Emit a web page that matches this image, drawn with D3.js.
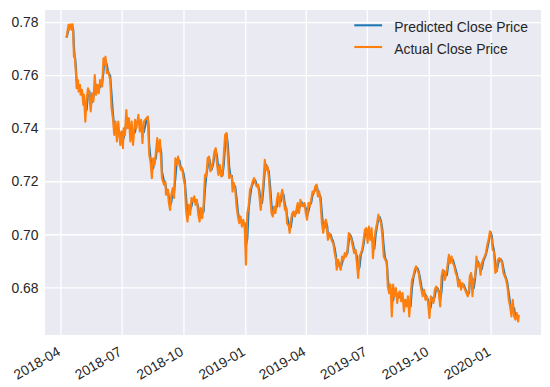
<!DOCTYPE html>
<html><head><meta charset="utf-8">
<script src="https://cdn.jsdelivr.net/npm/d3@7"></script>
<style>
body{margin:0;background:#fff;}
svg{display:block;}
text{font-family:"Liberation Sans",Arial,sans-serif;}
</style>
</head><body>
<svg id="chart" width="550" height="387"></svg>
<script>
const dates = [
"2018-04-10","2018-04-11","2018-04-13","2018-04-14","2018-04-16","2018-04-18","2018-04-19","2018-04-20","2018-04-21","2018-04-22",
"2018-04-23","2018-04-24","2018-04-25","2018-04-27","2018-04-28","2018-04-30","2018-05-01","2018-05-03","2018-05-05","2018-05-06",
"2018-05-08","2018-05-10","2018-05-12","2018-05-14","2018-05-16","2018-05-18","2018-05-20","2018-05-22","2018-05-24","2018-05-26",
"2018-05-28","2018-05-30","2018-06-02","2018-06-04","2018-06-05","2018-06-07","2018-06-09","2018-06-11","2018-06-14","2018-06-16",
"2018-06-18","2018-06-20","2018-06-22","2018-06-24","2018-06-26","2018-06-29","2018-07-01","2018-07-03","2018-07-04","2018-07-06",
"2018-07-08","2018-07-10","2018-07-12","2018-07-14","2018-07-16","2018-07-18","2018-07-21","2018-07-23","2018-07-26","2018-07-28",
"2018-07-30","2018-08-01","2018-08-03","2018-08-07","2018-08-09","2018-08-10","2018-08-11","2018-08-13","2018-08-15","2018-08-17",
"2018-08-19","2018-08-21","2018-08-23","2018-08-25","2018-08-27","2018-08-29","2018-08-30","2018-09-02","2018-09-04","2018-09-05",
"2018-09-08","2018-09-09","2018-09-11","2018-09-13","2018-09-15","2018-09-17","2018-09-19","2018-09-21","2018-09-23","2018-09-25",
"2018-09-27","2018-09-29","2018-10-01","2018-10-03","2018-10-05","2018-10-07","2018-10-09","2018-10-11","2018-10-13","2018-10-15",
"2018-10-17","2018-10-19","2018-10-21","2018-10-23","2018-10-25","2018-10-27","2018-10-29","2018-10-31","2018-11-02","2018-11-04",
"2018-11-06","2018-11-08","2018-11-10","2018-11-12","2018-11-14","2018-11-16","2018-11-18","2018-11-20","2018-11-22","2018-11-24",
"2018-11-26","2018-11-28","2018-11-30","2018-12-02","2018-12-04","2018-12-06","2018-12-08","2018-12-10","2018-12-12","2018-12-13",
"2018-12-15","2018-12-17","2018-12-19","2018-12-21","2018-12-23","2018-12-25","2018-12-27","2018-12-29","2018-12-31","2019-01-02",
"2019-01-04","2019-01-06","2019-01-08","2019-01-10","2019-01-12","2019-01-14","2019-01-16","2019-01-18","2019-01-20","2019-01-22",
"2019-01-24","2019-01-26","2019-01-28","2019-01-30","2019-02-01","2019-02-03","2019-02-05","2019-02-07","2019-02-09","2019-02-11",
"2019-02-13","2019-02-15","2019-02-17","2019-02-19","2019-02-21","2019-02-23","2019-02-25","2019-02-27","2019-03-01","2019-03-03",
"2019-03-04","2019-03-07","2019-03-08","2019-03-10","2019-03-12","2019-03-14","2019-03-16","2019-03-18","2019-03-20","2019-03-22",
"2019-03-24","2019-03-26","2019-03-28","2019-03-30","2019-04-01","2019-04-03","2019-04-05","2019-04-07","2019-04-09","2019-04-11",
"2019-04-13","2019-04-15","2019-04-17","2019-04-19","2019-04-21","2019-04-23","2019-04-25","2019-04-27","2019-04-29","2019-05-01",
"2019-05-03","2019-05-04","2019-05-06","2019-05-08","2019-05-10","2019-05-12","2019-05-14","2019-05-16","2019-05-17","2019-05-19",
"2019-05-21","2019-05-23","2019-05-25","2019-05-27","2019-05-29","2019-05-31","2019-06-02","2019-06-04","2019-06-06","2019-06-08",
"2019-06-10","2019-06-12","2019-06-14","2019-06-16","2019-06-18","2019-06-20","2019-06-22","2019-06-24","2019-06-26","2019-06-28",
"2019-06-30","2019-07-02","2019-07-04","2019-07-06","2019-07-08","2019-07-10","2019-07-12","2019-07-14","2019-07-16","2019-07-18",
"2019-07-20","2019-07-22","2019-07-24","2019-07-26","2019-07-28","2019-07-30","2019-07-31","2019-08-01","2019-08-03","2019-08-05",
"2019-08-07","2019-08-09","2019-08-11","2019-08-13","2019-08-15","2019-08-17","2019-08-19","2019-08-21","2019-08-23","2019-08-25",
"2019-08-27","2019-08-29","2019-08-31","2019-09-02","2019-09-04","2019-09-06","2019-09-08","2019-09-10","2019-09-12","2019-09-14",
"2019-09-16","2019-09-18","2019-09-20","2019-09-22","2019-09-24","2019-09-26","2019-09-28","2019-09-30","2019-10-02","2019-10-04",
"2019-10-06","2019-10-08","2019-10-10","2019-10-12","2019-10-14","2019-10-16","2019-10-18","2019-10-20","2019-10-22","2019-10-24",
"2019-10-25","2019-10-28","2019-10-30","2019-10-31","2019-11-02","2019-11-04","2019-11-06","2019-11-08","2019-11-10","2019-11-12",
"2019-11-14","2019-11-16","2019-11-18","2019-11-20","2019-11-22","2019-11-24","2019-11-26","2019-11-28","2019-11-30","2019-12-01",
"2019-12-03","2019-12-05","2019-12-07","2019-12-09","2019-12-11","2019-12-13","2019-12-15","2019-12-17","2019-12-19","2019-12-21",
"2019-12-23","2019-12-25","2019-12-27","2019-12-29","2019-12-31","2020-01-01","2020-01-03","2020-01-04","2020-01-06","2020-01-08",
"2020-01-10","2020-01-12","2020-01-14","2020-01-16","2020-01-18","2020-01-20","2020-01-22","2020-01-24","2020-01-26","2020-01-28",
"2020-01-30","2020-02-01","2020-02-03","2020-02-05","2020-02-07","2020-02-09","2020-02-11","2020-02-12"
];

const actual = [
0.7742,0.7759,0.7790,0.7771,0.7792,0.7771,0.7792,0.7752,0.7670,0.7677,
0.7645,0.7608,0.7551,0.7582,0.7538,0.7564,0.7526,0.7545,0.7488,0.7526,
0.7425,0.7513,0.7551,0.7526,0.7463,0.7532,0.7501,0.7601,0.7526,0.7564,
0.7532,0.7582,0.7557,0.7664,0.7639,0.7670,0.7608,0.7614,0.7582,0.7476,
0.7438,0.7375,0.7425,0.7350,0.7425,0.7337,0.7388,0.7325,0.7400,0.7375,
0.7469,0.7400,0.7438,0.7350,0.7425,0.7337,0.7432,0.7400,0.7451,0.7388,
0.7432,0.7344,0.7425,0.7438,0.7444,0.7375,0.7300,0.7274,0.7212,0.7287,
0.7262,0.7312,0.7363,0.7312,0.7356,0.7262,0.7212,0.7187,0.7199,0.7149,
0.7168,0.7124,0.7092,0.7149,0.7174,0.7137,0.7287,0.7262,0.7293,0.7262,
0.7243,0.7250,0.7212,0.7187,0.7086,0.7048,0.7111,0.7074,0.7137,0.7124,
0.7143,0.7111,0.7130,0.7074,0.7048,0.7099,0.7061,0.7111,0.7224,0.7218,
0.7287,0.7293,0.7237,0.7250,0.7274,0.7312,0.7325,0.7262,0.7224,0.7262,
0.7218,0.7224,0.7300,0.7375,0.7382,0.7300,0.7212,0.7224,0.7215,0.7161,
0.7193,0.7168,0.7105,0.7067,0.7042,0.7067,0.7029,0.7055,0.7029,0.6885,
0.7080,0.7105,0.7168,0.7180,0.7199,0.7212,0.7193,0.7180,0.7187,0.7143,
0.7092,0.7143,0.7199,0.7281,0.7243,0.7256,0.7218,0.7143,0.7080,0.7067,
0.7105,0.7080,0.7130,0.7155,0.7105,0.7143,0.7168,0.7130,0.7092,0.7100,
0.7042,0.7029,0.7005,0.7055,0.7080,0.7086,0.7067,0.7092,0.7118,0.7080,
0.7130,0.7111,0.7105,0.7118,0.7080,0.7055,0.7118,0.7105,0.7130,0.7161,
0.7155,0.7180,0.7187,0.7143,0.7161,0.7118,0.7042,0.7005,0.7042,0.7055,
0.7005,0.6979,0.7005,0.6992,0.6973,0.6967,0.6929,0.6904,0.6866,0.6904,
0.6879,0.6866,0.6916,0.6904,0.6929,0.6916,0.6942,0.7005,0.6992,0.6979,
0.6954,0.6929,0.6942,0.6891,0.6835,0.6916,0.6929,0.6942,0.6979,0.7017,
0.7023,0.6967,0.7029,0.6979,0.7023,0.6910,0.6979,0.7017,0.7042,0.7074,
0.7055,0.7042,0.6992,0.6916,0.6904,0.6898,0.6866,0.6803,0.6778,0.6810,
0.6690,0.6810,0.6766,0.6797,0.6741,0.6778,0.6784,0.6747,0.6778,0.6709,
0.6753,0.6728,0.6766,0.6690,0.6766,0.6828,0.6841,0.6866,0.6879,0.6866,
0.6854,0.6816,0.6791,0.6766,0.6791,0.6753,0.6766,0.6741,0.6684,0.6766,
0.6753,0.6741,0.6791,0.6803,0.6791,0.6778,0.6728,0.6841,0.6866,0.6854,
0.6828,0.6866,0.6904,0.6923,0.6891,0.6916,0.6891,0.6879,0.6854,0.6841,
0.6803,0.6828,0.6791,0.6816,0.6803,0.6791,0.6778,0.6766,0.6791,0.6841,
0.6854,0.6766,0.6828,0.6841,0.6916,0.6879,0.6891,0.6847,0.6891,0.6904,
0.6916,0.6929,0.6960,0.6979,0.7011,0.7005,0.6979,0.6942,0.6935,0.6854,
0.6866,0.6904,0.6910,0.6904,0.6891,0.6854,0.6841,0.6828,0.6803,0.6753,
0.6728,0.6690,0.6753,0.6690,0.6678,0.6703,0.6671,0.6697
];

const predicted = [
0.7742,0.7751,0.7775,0.7781,0.7782,0.7782,0.7782,0.7772,0.7711,0.7674,
0.7661,0.7627,0.7580,0.7567,0.7560,0.7551,0.7545,0.7536,0.7517,0.7507,
0.7476,0.7469,0.7532,0.7539,0.7495,0.7498,0.7517,0.7551,0.7564,0.7545,
0.7548,0.7557,0.7570,0.7611,0.7652,0.7655,0.7639,0.7611,0.7598,0.7529,
0.7457,0.7407,0.7400,0.7388,0.7388,0.7381,0.7363,0.7357,0.7363,0.7388,
0.7422,0.7435,0.7419,0.7394,0.7388,0.7381,0.7385,0.7416,0.7426,0.7420,
0.7410,0.7388,0.7385,0.7432,0.7441,0.7410,0.7338,0.7287,0.7243,0.7250,
0.7275,0.7287,0.7338,0.7338,0.7334,0.7309,0.7237,0.7200,0.7193,0.7174,
0.7159,0.7146,0.7108,0.7121,0.7162,0.7156,0.7212,0.7275,0.7278,0.7278,
0.7253,0.7247,0.7231,0.7200,0.7137,0.7067,0.7080,0.7093,0.7106,0.7131,
0.7134,0.7127,0.7121,0.7102,0.7061,0.7074,0.7080,0.7086,0.7168,0.7221,
0.7253,0.7290,0.7265,0.7244,0.7262,0.7293,0.7319,0.7294,0.7243,0.7243,
0.7240,0.7221,0.7262,0.7338,0.7379,0.7341,0.7256,0.7218,0.7220,0.7188,
0.7177,0.7181,0.7137,0.7086,0.7055,0.7055,0.7048,0.7042,0.7042,0.6957,
0.6983,0.7093,0.7137,0.7174,0.7190,0.7206,0.7203,0.7187,0.7184,0.7165,
0.7118,0.7118,0.7171,0.7240,0.7262,0.7250,0.7237,0.7181,0.7112,0.7074,
0.7086,0.7093,0.7105,0.7143,0.7130,0.7124,0.7156,0.7149,0.7111,0.7096,
0.7071,0.7036,0.7017,0.7030,0.7068,0.7083,0.7077,0.7080,0.7105,0.7099,
0.7105,0.7121,0.7108,0.7112,0.7099,0.7068,0.7087,0.7112,0.7118,0.7146,
0.7158,0.7168,0.7184,0.7165,0.7152,0.7140,0.7080,0.7024,0.7024,0.7049,
0.7030,0.6992,0.6992,0.6999,0.6983,0.6970,0.6948,0.6917,0.6885,0.6885,
0.6892,0.6873,0.6891,0.6910,0.6917,0.6923,0.6929,0.6974,0.6999,0.6986,
0.6967,0.6942,0.6936,0.6917,0.6863,0.6876,0.6923,0.6936,0.6961,0.6998,
0.7020,0.6995,0.6998,0.7004,0.7001,0.6967,0.6945,0.6998,0.7030,0.7058,
0.7065,0.7049,0.7017,0.6954,0.6910,0.6901,0.6882,0.6835,0.6791,0.6794,
0.6750,0.6750,0.6788,0.6782,0.6769,0.6760,0.6781,0.6766,0.6763,0.6744,
0.6731,0.6741,0.6747,0.6728,0.6728,0.6797,0.6835,0.6854,0.6873,0.6873,
0.6860,0.6835,0.6804,0.6779,0.6779,0.6772,0.6760,0.6754,0.6713,0.6725,
0.6760,0.6747,0.6766,0.6797,0.6797,0.6785,0.6753,0.6785,0.6854,0.6860,
0.6841,0.6847,0.6885,0.6914,0.6907,0.6904,0.6904,0.6885,0.6867,0.6848,
0.6822,0.6816,0.6810,0.6804,0.6810,0.6797,0.6785,0.6772,0.6779,0.6816,
0.6848,0.6810,0.6797,0.6835,0.6879,0.6898,0.6885,0.6869,0.6869,0.6898,
0.6910,0.6923,0.6945,0.6970,0.6995,0.7008,0.6992,0.6961,0.6939,0.6895,
0.6860,0.6885,0.6907,0.6907,0.6898,0.6873,0.6848,0.6835,0.6816,0.6778,
0.6741,0.6709,0.6722,0.6722,0.6684,0.6691,0.6687,0.6684
];

const seriesNames = ["Predicted Close Price", "Actual Close Price"];
const seriesColors = ["#1f77b4", "#ff7f0e"];
const xTickLabels = ["2018-04","2018-07","2018-10","2019-01","2019-04","2019-07","2019-10","2020-01"];
const yTickValues = [0.68, 0.70, 0.72, 0.74, 0.76, 0.78];
const xLimits = ["2018-03-09", "2020-03-16"];
const yLimits = [0.662, 0.7846];

const parseDay = d3.utcParse("%Y-%m-%d");
const parseMonth = d3.utcParse("%Y-%m");
const plot = {left: 45, right: 541, top: 10, bottom: 335};
const textColor = "#262626";
const fontSize = "13.9px";

const svg = d3.select("#chart");
const x = d3.scaleUtc().domain(xLimits.map(parseDay)).range([plot.left, plot.right]);
const y = d3.scaleLinear().domain(yLimits).range([plot.bottom, plot.top]);

svg.append("rect")
  .attr("x", plot.left).attr("y", plot.top)
  .attr("width", plot.right - plot.left).attr("height", plot.bottom - plot.top)
  .attr("fill", "#EAEAF2");

// x axis with grid
const xAxis = svg.append("g")
  .attr("transform", `translate(0,${plot.bottom})`)
  .call(d3.axisBottom(x)
    .tickValues(xTickLabels.map(parseMonth))
    .tickFormat(d3.utcFormat("%Y-%m"))
    .tickSize(-(plot.bottom - plot.top)));
xAxis.select(".domain").remove();
xAxis.selectAll(".tick line").attr("stroke", "#fff").attr("stroke-width", 1.3);
xAxis.selectAll(".tick text")
  .attr("fill", textColor).attr("font-size", fontSize)
  .attr("font-family", '"Liberation Sans", Arial, sans-serif')
  .attr("text-anchor", "end")
  .attr("x", 0).attr("y", 0).attr("dy", 0)
  .attr("transform", "translate(0.5,19.5) rotate(-30)");

// y axis with grid
const yAxis = svg.append("g")
  .attr("transform", `translate(${plot.left},0)`)
  .call(d3.axisLeft(y)
    .tickValues(yTickValues)
    .tickFormat(d3.format(".2f"))
    .tickSize(-(plot.right - plot.left))
    .tickPadding(6.5));
yAxis.select(".domain").remove();
yAxis.selectAll(".tick line").attr("stroke", "#fff").attr("stroke-width", 1.3);
yAxis.selectAll(".tick text")
  .attr("fill", textColor).attr("font-size", fontSize)
  .attr("font-family", '"Liberation Sans", Arial, sans-serif')
  .attr("dy", "0.34em");

// lines
svg.append("clipPath").attr("id", "clip").append("rect")
  .attr("x", plot.left).attr("y", plot.top)
  .attr("width", plot.right - plot.left).attr("height", plot.bottom - plot.top);

const series = [predicted, actual];
const lineGen = d3.line()
  .x((d, i) => x(parseDay(dates[i])))
  .y(d => y(d));

svg.append("g").attr("clip-path", "url(#clip)")
  .selectAll("path").data(series).join("path")
  .attr("d", d => lineGen(d))
  .attr("fill", "none")
  .attr("stroke", (d, i) => seriesColors[i])
  .attr("stroke-width", 2.08)
  .attr("stroke-linejoin", "round");

// legend
const legend = svg.append("g");
const legendRows = legend.selectAll("g").data(seriesNames).join("g")
  .attr("transform", (d, i) => `translate(354.3,${25.3 + i * 21.7})`);
legendRows.append("line")
  .attr("x1", 0).attr("x2", 27.8).attr("y1", 0).attr("y2", 0)
  .attr("stroke", (d, i) => seriesColors[i]).attr("stroke-width", 2.08);
legendRows.append("text")
  .attr("x", 40).attr("y", 6.5)
  .attr("fill", textColor).attr("font-size", fontSize)
  .text(d => d);
</script>
</body></html>
